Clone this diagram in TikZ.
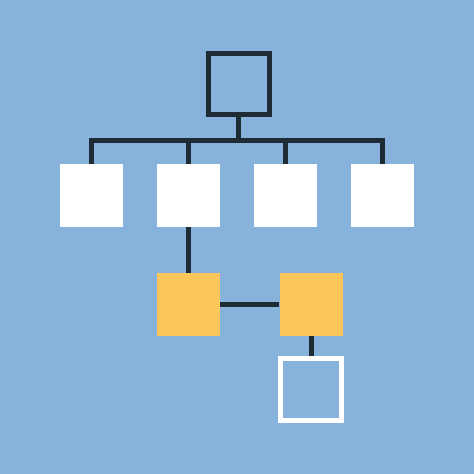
\documentclass[tikz,border=0pt]{standalone}
\usepackage{tikz}
\usetikzlibrary{calc}

\definecolor{skyblue}{RGB}{134,178,220}
\definecolor{inkdark}{RGB}{28,43,52}
\definecolor{mustard}{RGB}{253,198,90}

\begin{document}
\begin{tikzpicture}[x=1pt,y=-1pt,
    link/.style={draw=inkdark,line width=5pt},
    hollow/.style={draw=#1,line width=5pt,minimum size=61.5pt,inner sep=0pt},
    solid/.style={fill=#1,minimum size=63pt,inner sep=0pt}]
        \fill[skyblue] (0,0) rectangle (474,474);
        \useasboundingbox (0,0) rectangle (474,474);

        \node[hollow=inkdark] (root) at (239,84) {};
        \node[solid=white] (w1) at (91,195.7) {};
        \node[solid=white] (w2) at (188.5,195.7) {};
        \node[solid=white] (w3) at (285,195.7) {};
        \node[solid=white] (w4) at (382,195.7) {};
        \node[solid=mustard] (y1) at (188.5,304.7) {};
        \node[solid=mustard] (y2) at (311,304.7) {};
        \node[hollow=white] (leaf) at (311,389.7) {};
        \coordinate (hub) at (238,140);

        \draw[link] (root.south -| hub) -- (hub);
        \draw[link] (w1) |- (hub) -| (w4);
        \draw[link] (w2) -- (w2 |- hub);
        \draw[link] (w3) -- (w3 |- hub);
        \draw[link] (w2) -- (y1);
        \draw[link] (y1) -- (y2);
        \draw[link] (y2) -- (leaf);
      \end{tikzpicture}
\end{document}
